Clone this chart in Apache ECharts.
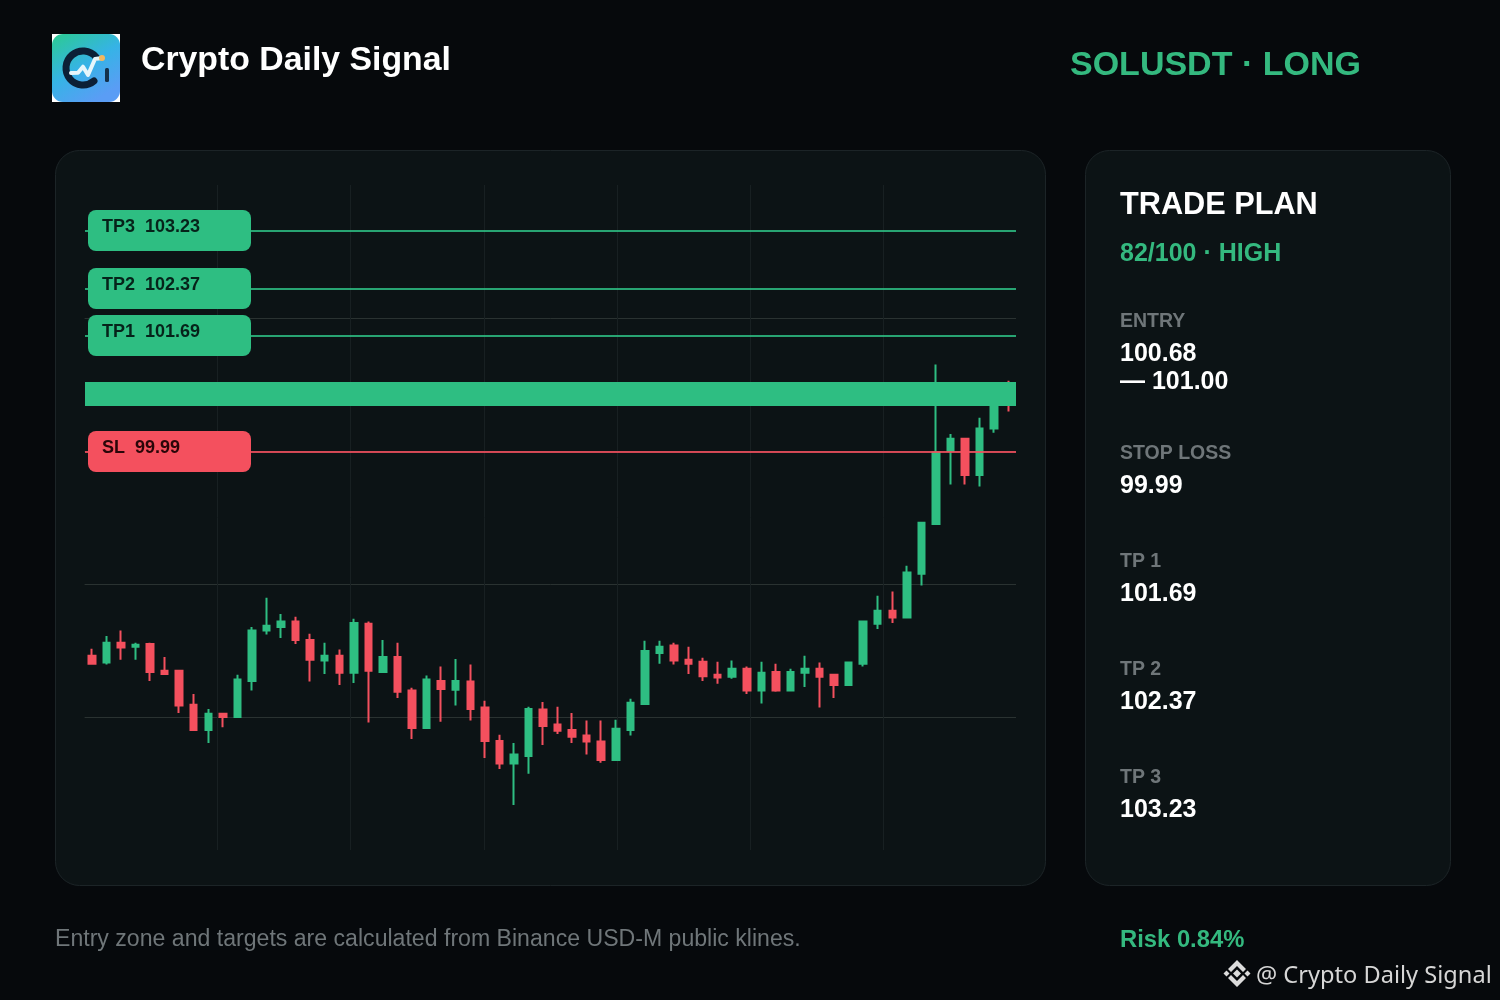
<!DOCTYPE html>
<html><head><meta charset="utf-8">
<script src="https://cdn.jsdelivr.net/npm/echarts@6/dist/echarts.min.js"></script>
<style>html,body{margin:0;padding:0;background:#06090c}#c{width:1500px;height:1000px}</style>
</head><body><div id="c"></div>
<script>
// [open, close, low, high]
const candles = [
[97.00,96.88,96.88,97.10],[96.90,97.19,96.87,97.29],[97.19,97.12,96.94,97.37],[97.13,97.16,96.94,97.19],
[97.17,96.76,96.63,97.19],[96.78,96.73,96.73,96.98],[96.78,96.27,96.16,96.78],[96.28,95.91,95.91,96.44],
[95.91,96.15,95.72,96.22],[96.15,96.10,95.95,96.16],[96.10,96.65,96.10,96.72],[96.63,97.37,96.49,97.42],
[97.37,97.44,97.31,97.85],[97.42,97.50,97.26,97.61],[97.50,97.23,97.17,97.57],[97.23,96.94,96.62,97.32],
[96.93,97.00,96.73,97.19],[97.00,96.75,96.57,97.09],[96.75,97.48,96.60,97.54],[97.47,96.78,96.02,97.50],
[96.76,96.98,96.76,97.23],[96.98,96.47,96.38,97.19],[96.49,95.94,95.78,96.53],[95.94,96.65,95.94,96.71],
[96.63,96.51,96.03,96.84],[96.50,96.63,96.27,96.95],[96.62,96.22,96.05,96.87],[96.24,95.75,95.50,96.34],
[95.75,95.42,95.34,95.84],[95.42,95.55,94.81,95.72],[95.53,96.22,95.27,96.25],[96.21,95.97,95.69,96.32],
[95.99,95.90,95.85,96.25],[95.91,95.81,95.72,96.16],[95.83,95.74,95.55,96.05],[95.74,95.47,95.43,96.05],
[95.47,95.93,95.47,96.06],[95.91,96.31,95.83,96.37],[96.29,97.07,96.28,97.22],[97.04,97.13,96.88,97.22],
[97.15,96.93,96.87,97.19],[96.94,96.88,96.73,97.13],[96.91,96.70,96.63,96.97],[96.72,96.68,96.59,96.91],
[96.69,96.81,96.66,96.93],[96.81,96.49,96.44,96.84],[96.49,96.75,96.30,96.91],[96.76,96.49,96.47,96.88],
[96.49,96.76,96.49,96.81],[96.75,96.81,96.54,97.00],[96.81,96.69,96.24,96.90],[96.72,96.57,96.38,96.73],
[96.57,96.90,96.57,96.91],[96.88,97.50,96.84,97.50],[97.47,97.66,97.39,97.88],[97.66,97.56,97.48,97.94],
[97.56,98.22,97.56,98.32],[98.20,98.95,98.03,98.95],[98.93,99.98,98.93,101.27],[100.00,100.18,99.51,100.25],
[100.18,99.65,99.51,100.18],[99.65,100.33,99.48,100.49],[100.33,100.78,100.27,100.85],[100.95,100.68,100.58,101.03]
];
const categories = candles.map((_, i) => String(i + 1));
const levelNames = ['TP3', 'TP2', 'TP1', 'SL'];
const levelPrices = [103.23, 102.37, 101.69, 99.99];
const entryZone = [100.68, 101.00];
const planLabels = ['ENTRY', 'STOP LOSS', 'TP 1', 'TP 2', 'TP 3'];
const planValues = ['100.68\n— 101.00', '99.99', '101.69', '102.37', '103.23'];

const GREEN = '#2ebe82', RED = '#f4505e';
const SANS = '"Liberation Sans", Arial, sans-serif';
const txt = (x, y, text, font, fill, extra) => Object.assign({
  type: 'text', x, y, silent: true, z: 10,
  style: Object.assign({ text, font, fill, textVerticalAlign: 'middle', textBaseline: 'middle' }, extra || {})
});
const panel = (x, y, w, h) => ({
  type: 'rect', x, y, z: -10, silent: true, shape: { width: w, height: h, r: 24 },
  style: { fill: '#0c1315', stroke: '#1c2427', lineWidth: 1 }
});

const graphics = [
  panel(55.5, 150.5, 990, 735),
  panel(1085.5, 150.5, 365, 735),
  // logo
  { type: 'rect', x: 52, y: 34, z: 1, silent: true, shape: { width: 68, height: 68 }, style: { fill: '#ffffff' } },
  { type: 'rect', x: 52, y: 34, z: 2, silent: true, shape: { width: 68, height: 68, r: 11 },
    style: { fill: new echarts.graphic.LinearGradient(0, 0, 0.6, 1, [
      { offset: 0, color: '#2bcb90' }, { offset: 0.55, color: '#36b3e6' }, { offset: 1, color: '#5a9df5' }]) } },
  { type: 'arc', x: 0, y: 0, z: 3, silent: true, shape: { cx: 83, cy: 68, r: 17, startAngle: -0.7, endAngle: 0.87, clockwise: false },
    style: { stroke: '#0c2036', lineWidth: 7, fill: null, lineCap: 'round' } },
  { type: 'polyline', z: 4, silent: true, shape: { points: [[71, 73], [78, 72.7], [83, 66.7], [88, 75], [95, 59], [102, 58]] },
    style: { stroke: '#e6f6fb', lineWidth: 4, fill: null, lineJoin: 'round', lineCap: 'round' } },
  { type: 'circle', z: 5, silent: true, shape: { cx: 102, cy: 58, r: 3 }, style: { fill: '#f4b860' } },
  { type: 'rect', z: 4, silent: true, shape: { x: 105, y: 68, width: 4, height: 14, r: 1.5 }, style: { fill: '#14304a' } },
  txt(141, 60.5, 'Crypto Daily Signal', 'bold 33.8px ' + SANS, '#ffffff'),
  txt(1070, 66, 'SOLUSDT · LONG', 'bold 34px ' + SANS, '#34b97f'),
  txt(1120, 206, 'TRADE PLAN', 'bold 30.7px ' + SANS, '#ffffff'),
  txt(1120, 254, '82/100 · HIGH', 'bold 25px ' + SANS, '#34b97f'),
  txt(55, 940, 'Entry zone and targets are calculated from Binance USD-M public klines.', '23.1px ' + SANS, '#6f7679'),
  txt(1120, 940, 'Risk 0.84%', 'bold 23.8px ' + SANS, '#34b97f'),
  txt(1256, 976, '@ Crypto Daily Signal', '23.6px "Noto Sans", sans-serif', '#d6d6d6'),
  // exchange mark
  { type: 'polygon', z: 6, silent: true, shape: { points: [[1237, 960], [1246, 969], [1243, 972], [1237, 966], [1231, 972], [1228, 969]] }, style: { fill: '#dcdcdc' } },
  { type: 'polygon', z: 6, silent: true, shape: { points: [[1237, 987], [1246, 978], [1243, 975], [1237, 981], [1231, 975], [1228, 978]] }, style: { fill: '#dcdcdc' } },
  { type: 'polygon', z: 6, silent: true, shape: { points: [[1237, 969.5], [1241, 973.5], [1237, 977.5], [1233, 973.5]] }, style: { fill: '#dcdcdc' } },
  { type: 'polygon', z: 6, silent: true, shape: { points: [[1223.5, 973.5], [1226.5, 970.5], [1229.5, 973.5], [1226.5, 976.5]] }, style: { fill: '#dcdcdc' } },
  { type: 'polygon', z: 6, silent: true, shape: { points: [[1244.5, 973.5], [1247.5, 970.5], [1250.5, 973.5], [1247.5, 976.5]] }, style: { fill: '#dcdcdc' } }
];
const labelY = [322, 454, 562, 670, 778];
const valueY = [354, 486, 594, 702, 810];
planLabels.forEach((l, i) => {
  graphics.push(txt(1120, labelY[i], l, 'bold 19.5px ' + SANS, '#6f7679'));
  planValues[i].split('\n').forEach((v, j) => {
    graphics.push(txt(1120, valueY[i] + j * 28, v, 'bold 25px ' + SANS, '#ffffff'));
  });
});

const chart = echarts.init(document.getElementById('c'));
chart.setOption({
  backgroundColor: '#06090c',
  animation: false,
  graphic: graphics,
  grid: { left: 84.6, top: 185, width: 931.4, height: 665, containLabel: false },
  xAxis: [
    { type: 'category', data: categories, boundaryGap: true, show: false },
    { type: 'value', min: 0, max: 7, interval: 1, axisLine: { show: false }, axisTick: { show: false }, axisLabel: { show: false },
      splitLine: { show: true, showMinLine: false, showMaxLine: false, lineStyle: { color: '#182022', width: 1 } } }
  ],
  yAxis: [
    { type: 'value', min: 94.151, max: 103.901, show: false, splitLine: { show: false } },
    { type: 'value', min: 0, max: 5, interval: 1, axisLine: { show: false }, axisTick: { show: false }, axisLabel: { show: false },
      splitLine: { show: true, showMinLine: false, showMaxLine: false, lineStyle: { color: '#2a3231', width: 1 } } }
  ],
  series: [
    { type: 'candlestick', data: candles, xAxisIndex: 0, yAxisIndex: 0, barWidth: 7, z: 3,
      itemStyle: { color: GREEN, color0: RED, borderColor: GREEN, borderColor0: RED, borderWidth: 2 } },
    // entry zone band
    { type: 'custom', xAxisIndex: 0, yAxisIndex: 0, z: 4, silent: true, clip: false,
      data: [[0, entryZone[0], entryZone[1]]],
      renderItem(params, api) {
        const yLow = Math.round(api.coord([0, api.value(1)])[1]) + 1;
        const yHigh = Math.round(api.coord([0, api.value(2)])[1]) - 1;
        return { type: 'rect', shape: { x: 85, y: yHigh, width: 931, height: yLow - yHigh }, style: { fill: GREEN } };
      } },
    // level lines and their labels
    { type: 'custom', xAxisIndex: 0, yAxisIndex: 0, z: 6, silent: true, clip: false,
      data: levelPrices.map((p, i) => [0, p, i]),
      renderItem(params, api) {
        const i = api.value(2);
        const y = Math.round(api.coord([0, api.value(1)])[1]);
        const isSL = levelNames[i] === 'SL';
        const c = isSL ? RED : GREEN;
        return { type: 'group', children: [
          { type: 'rect', shape: { x: 85, y: y - 1, width: 931, height: 2 }, style: { fill: c, opacity: 0.85 } },
          { type: 'rect', shape: { x: 88, y: y - 21, width: 163, height: 41, r: 8 }, style: { fill: c } },
          { type: 'text', style: { x: 102, y: y - 4, text: levelNames[i] + '  ' + levelPrices[i].toFixed(2),
            font: 'bold 18px ' + SANS, fill: isSL ? '#2a0609' : '#06231a', textBaseline: 'middle', textVerticalAlign: 'middle' } }
        ] };
      } }
  ]
});
</script></body></html>
